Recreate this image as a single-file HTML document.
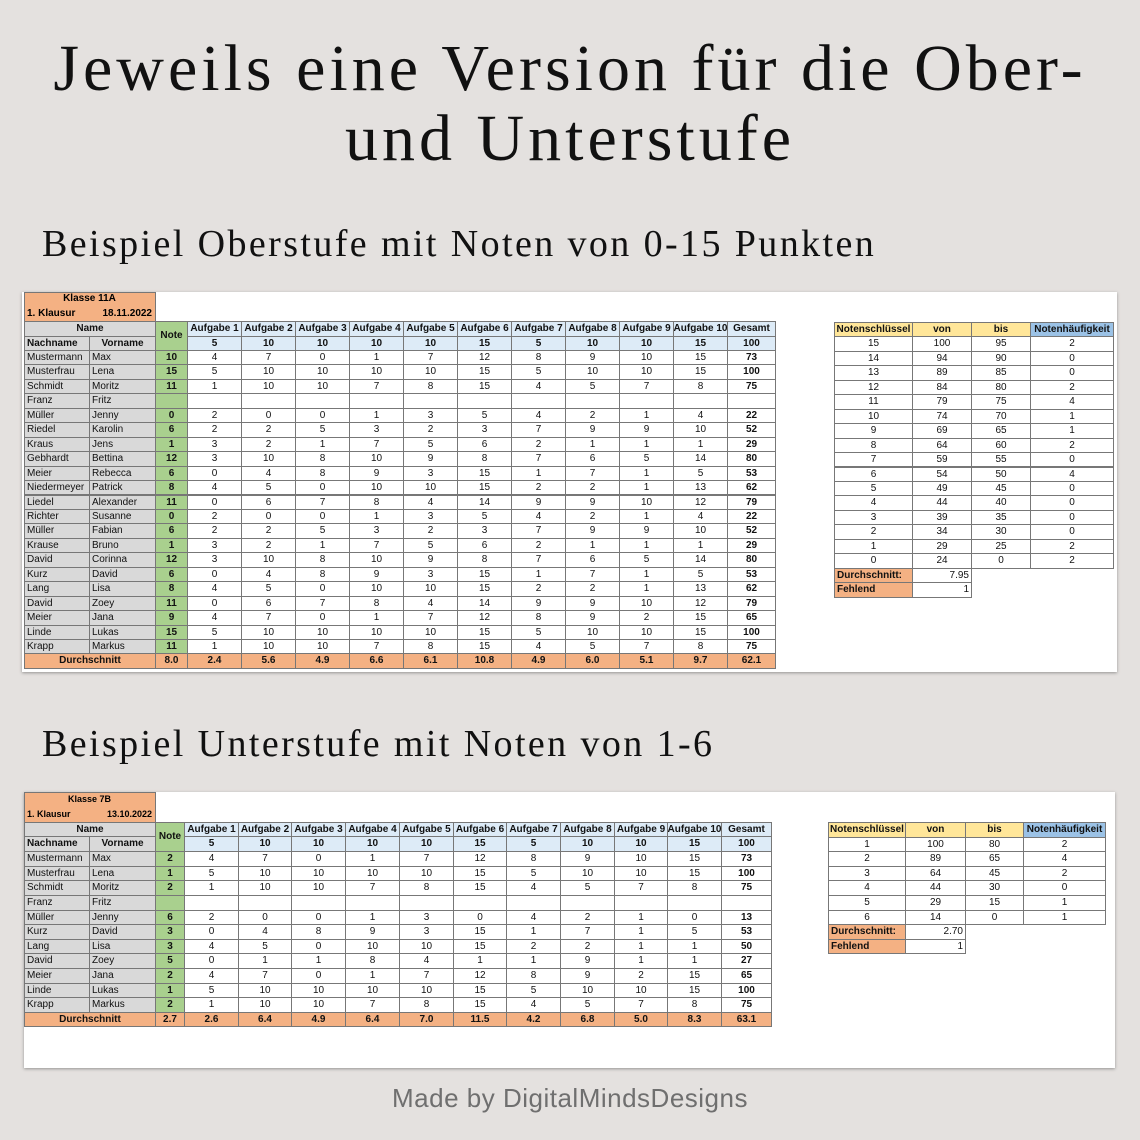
<!DOCTYPE html>
<html><head><meta charset="utf-8">
<style>
*{margin:0;padding:0;box-sizing:border-box}
body{width:1140px;height:1140px;background:#e4e1df;position:relative;overflow:hidden;font-family:"Liberation Sans",sans-serif}
.t{position:absolute;font-family:"Liberation Serif",serif;color:#111;white-space:nowrap}
.panel{position:absolute;background:#fff;box-shadow:0 1px 3px rgba(0,0,0,.35)}
.c{position:absolute;border:1px solid #777;font-size:10px;line-height:1;display:flex;align-items:center;justify-content:center;color:#111;white-space:nowrap;overflow:hidden}
.b{font-weight:bold}
.l{justify-content:flex-start;padding-left:2px}
.r{justify-content:flex-end;padding-right:2px}
</style></head><body>
<div class="t" style="left:0;width:1140px;text-align:center;top:34px;font-size:66px;line-height:70px;letter-spacing:4px">Jeweils eine Version für die Ober-<br>und Unterstufe</div>
<div class="t" style="left:42px;top:222px;font-size:38px;letter-spacing:2.4px">Beispiel Oberstufe mit Noten von 0-15 Punkten</div>
<div class="t" style="left:42px;top:722px;font-size:38px;letter-spacing:2.4px">Beispiel Unterstufe mit Noten von 1-6</div>
<div class="panel" style="left:22px;top:292px;width:1095px;height:380px"></div>
<div class="panel" style="left:24px;top:792px;width:1091px;height:276px"></div>
<div class="t" style="left:0;width:1140px;text-align:center;top:1083px;font-family:'Liberation Sans',sans-serif;font-size:26px;color:#6f6f6f;letter-spacing:0.5px">Made by DigitalMindsDesigns</div>
<div id="root"></div>
<script>
const names1=[["Mustermann","Max"],["Musterfrau","Lena"],["Schmidt","Moritz"],["Franz","Fritz"],["Müller","Jenny"],["Riedel","Karolin"],["Kraus","Jens"],["Gebhardt","Bettina"],["Meier","Rebecca"],["Niedermeyer","Patrick"],["Liedel","Alexander"],["Richter","Susanne"],["Müller","Fabian"],["Krause","Bruno"],["David","Corinna"],["Kurz","David"],["Lang","Lisa"],["David","Zoey"],["Meier","Jana"],["Linde","Lukas"],["Krapp","Markus"]];
const notes1=["10","15","11","","0","6","1","12","6","8","11","0","6","1","12","6","8","11","9","15","11"];
const scores1=[[4,7,0,1,7,12,8,9,10,15,73],[5,10,10,10,10,15,5,10,10,15,100],[1,10,10,7,8,15,4,5,7,8,75],[],[2,0,0,1,3,5,4,2,1,4,22],[2,2,5,3,2,3,7,9,9,10,52],[3,2,1,7,5,6,2,1,1,1,29],[3,10,8,10,9,8,7,6,5,14,80],[0,4,8,9,3,15,1,7,1,5,53],[4,5,0,10,10,15,2,2,1,13,62],[0,6,7,8,4,14,9,9,10,12,79],[2,0,0,1,3,5,4,2,1,4,22],[2,2,5,3,2,3,7,9,9,10,52],[3,2,1,7,5,6,2,1,1,1,29],[3,10,8,10,9,8,7,6,5,14,80],[0,4,8,9,3,15,1,7,1,5,53],[4,5,0,10,10,15,2,2,1,13,62],[0,6,7,8,4,14,9,9,10,12,79],[4,7,0,1,7,12,8,9,2,15,65],[5,10,10,10,10,15,5,10,10,15,100],[1,10,10,7,8,15,4,5,7,8,75]];
const avg1=["8.0","2.4","5.6","4.9","6.6","6.1","10.8","4.9","6.0","5.1","9.7","62.1"];
const max1=[5,10,10,10,10,15,5,10,10,15,100];
const key1=[[15,100,95,2],[14,94,90,0],[13,89,85,0],[12,84,80,2],[11,79,75,4],[10,74,70,1],[9,69,65,1],[8,64,60,2],[7,59,55,0],[6,54,50,4],[5,49,45,0],[4,44,40,0],[3,39,35,0],[2,34,30,0],[1,29,25,2],[0,24,0,2]];
const names2=[["Mustermann","Max"],["Musterfrau","Lena"],["Schmidt","Moritz"],["Franz","Fritz"],["Müller","Jenny"],["Kurz","David"],["Lang","Lisa"],["David","Zoey"],["Meier","Jana"],["Linde","Lukas"],["Krapp","Markus"]];
const notes2=["2","1","2","","6","3","3","5","2","1","2"];
const scores2=[[4,7,0,1,7,12,8,9,10,15,73],[5,10,10,10,10,15,5,10,10,15,100],[1,10,10,7,8,15,4,5,7,8,75],[],[2,0,0,1,3,0,4,2,1,0,13],[0,4,8,9,3,15,1,7,1,5,53],[4,5,0,10,10,15,2,2,1,1,50],[0,1,1,8,4,1,1,9,1,1,27],[4,7,0,1,7,12,8,9,2,15,65],[5,10,10,10,10,15,5,10,10,15,100],[1,10,10,7,8,15,4,5,7,8,75]];
const avg2=["2.7","2.6","6.4","4.9","6.4","7.0","11.5","4.2","6.8","5.0","8.3","63.1"];
const key2=[[1,100,80,2],[2,89,65,4],[3,64,45,2],[4,44,30,0],[5,29,15,1],[6,14,0,1]];

const root=document.getElementById('root');
const R=Math.round;
function cell(x,y,w,h,txt,cls,bg,name){
  const d=document.createElement('div');
  d.className='c '+(cls||'');
  const xa=R(x),ya=R(y);
  d.style.left=xa+'px';d.style.top=ya+'px';d.style.width=(R(x+w)-xa+1)+'px';d.style.height=(R(y+h)-ya+1)+'px';
  if(bg)d.style.background=bg;
  d.textContent=txt;
  
  
  root.appendChild(d);
}
const OR='#f4b183',GR='#a9d08e',LB='#ddebf7',GY='#d9d9d9',YE='#ffe699',BL='#9bc2e6';
function sheet(o){
  const {x0,x1,x2,x3,aw,gw,y0,rh,hh,names,notes,scores,avg,klasse,datum,fs}=o;
  cell(x0,y0,x2-x0,hh*2,'','',OR,'class-info');
  const k=document.createElement('div');k.style.cssText=`position:absolute;left:${x0}px;top:${y0}px;width:${x2-x0}px;font:bold ${fs}px "Liberation Sans";text-align:center;line-height:${hh}px`;k.textContent=klasse;
  
  
  root.appendChild(k);
  const k2=document.createElement('div');k2.style.cssText=`position:absolute;left:${x0+3}px;top:${y0+hh}px;width:${x2-x0-6}px;font:bold ${fs}px "Liberation Sans";line-height:${hh}px;display:flex;justify-content:space-between`;k2.innerHTML='<span>1. Klausur</span><span>'+datum+'</span>';
  
  
  root.appendChild(k2);
  let y=y0+hh*2;
  cell(x0,y,x2-x0,hh,'Name','b',GY,'name-header');
  cell(x0,y+hh,x1-x0,hh,'Nachname','b l',GY,'lastname-header');
  cell(x1,y+hh,x2-x1,hh,'Vorname','b',GY,'firstname-header');
  cell(x2,y,x3-x2,hh*2,'Note','b',GR,'grade-header');
  for(let i=0;i<10;i++){
    cell(x3+i*aw,y,aw,hh,'Aufgabe '+(i+1),'b',LB,'task-header');
    cell(x3+i*aw,y+hh,aw,hh,String(max1[i]),'b',LB,'task-max');
  }
  const gx=x3+10*aw;
  cell(gx,y,gw,hh,'Gesamt','b',LB,'total-header');
  cell(gx,y+hh,gw,hh,'100','b',LB,'total-max');
  y+=hh*2;
  names.forEach((n,r)=>{
    const yy=y+r*rh;
    cell(x0,yy,x1-x0,rh,n[0],'l',GY,'student-lastname');
    cell(x1,yy,x2-x1,rh,n[1],'l',GY,'student-firstname');
    cell(x2,yy,x3-x2,rh,notes[r],'b',GR,'student-grade');
    for(let i=0;i<11;i++){
      const v=scores[r][i];
      cell(i<10?x3+i*aw:gx,yy,i<10?aw:gw,rh,v===undefined?'':String(v),i==10?'b':'',null,i<10?'task-score':'total-score');
    }
  });
  const ya=y+names.length*rh;
  cell(x0,ya,x2-x0,rh,'Durchschnitt','b',OR,'average-label');
  cell(x2,ya,x3-x2,rh,avg[0],'b',OR,'average-grade');
  for(let i=0;i<11;i++) cell(i<10?x3+i*aw:gx,ya,i<10?aw:gw,rh,avg[i+1],'b',OR,'average-score');
}
function keyTable(o){
  const {xs,y0,rh,key,avg}=o;
  const hd=['Notenschlüssel','von','bis','Notenhäufigkeit'];
  hd.forEach((h,i)=>cell(xs[i],y0,xs[i+1]-xs[i],rh,h,'b',i==3?BL:YE,'key-header'));
  key.forEach((row,r)=>row.forEach((v,i)=>cell(xs[i],y0+(r+1)*rh,xs[i+1]-xs[i],rh,String(v),'',null,'key-cell')));
  const yy=y0+(key.length+1)*rh;
  cell(xs[0],yy,xs[1]-xs[0],rh,'Durchschnitt:','b l',OR,'key-average-label');
  cell(xs[1],yy,xs[2]-xs[1],rh,avg,'r',null,'key-average');
  cell(xs[0],yy+rh,xs[1]-xs[0],rh,'Fehlend','b l',OR,'missing-label');
  cell(xs[1],yy+rh,xs[2]-xs[1],rh,'1','r',null,'missing-count');
}
sheet({x0:24,x1:89,x2:155,x3:187,aw:54,gw:48,y0:292,hh:14.5,rh:14.45,names:names1,notes:notes1,scores:scores1,avg:avg1,klasse:'Klasse 11A',datum:'18.11.2022',fs:10});
keyTable({xs:[834,912,971,1030,1113],y0:322,rh:14.45,key:key1,avg:'7.95'});
sheet({x0:24,x1:89,x2:155,x3:184,aw:53.7,gw:50,y0:792,hh:14.8,rh:14.6,names:names2,notes:notes2,scores:scores2,avg:avg2,klasse:'Klasse 7B',datum:'13.10.2022',fs:9});
keyTable({xs:[828,905,965,1023,1105],y0:822,rh:14.6,key:key2,avg:'2.70'});
</script>
</body></html>
